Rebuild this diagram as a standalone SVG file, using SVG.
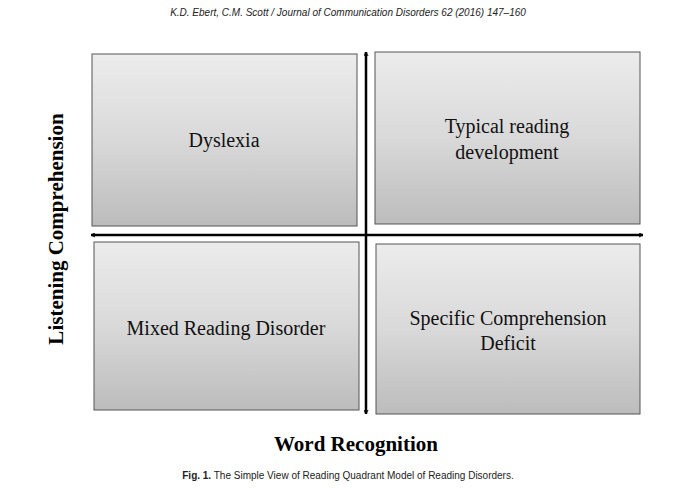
<svg xmlns="http://www.w3.org/2000/svg" width="696" height="493" viewBox="0 0 696 493">
<style>
.box{fill:url(#g);stroke:#555;stroke-width:1}
.t{font-family:"Liberation Serif",serif;font-size:20px;fill:#111;text-anchor:middle}
.ax{stroke:#000;stroke-width:2.5;fill:none}
</style>
<defs>
<linearGradient id="g" x1="0" y1="0" x2="0" y2="1"><stop offset="0" stop-color="#ececec"/><stop offset="0.5" stop-color="#d9d9d9"/><stop offset="1" stop-color="#bcbcbc"/></linearGradient>
<marker id="a" viewBox="0 0 10 10" refX="9" refY="5" markerWidth="5" markerHeight="5" orient="auto-start-reverse" markerUnits="userSpaceOnUse"><path d="M1,1 L9,5 L1,9" fill="none" stroke="#000" stroke-width="2"/></marker>
</defs>
<rect width="696" height="493" fill="#fff"/>
<text x="348" y="16" font-family="Liberation Sans,sans-serif" font-size="10" font-style="italic" text-anchor="middle" fill="#222">K.D. Ebert, C.M. Scott / Journal of Communication Disorders 62 (2016) 147–160</text>
<g id="dyslexia"><rect class="box" x="92" y="54" width="265" height="172"/><text class="t" x="224" y="147">Dyslexia</text></g>
<g id="typical"><rect class="box" x="375" y="52" width="265" height="172"/><text class="t" x="507" y="133">Typical reading</text><text class="t" x="507" y="159">development</text></g>
<g id="mixed"><rect class="box" x="94" y="242" width="265" height="168"/><text class="t" x="226" y="335">Mixed Reading Disorder</text></g>
<g id="specific"><rect class="box" x="376" y="244" width="264" height="170"/><text class="t" x="508" y="325">Specific Comprehension</text><text class="t" x="508" y="350">Deficit</text></g>
<g id="connectors">
<line class="ax" x1="366" y1="414" x2="366" y2="52" marker-start="url(#a)" marker-end="url(#a)"/>
<line class="ax" x1="91" y1="235" x2="643" y2="235" marker-start="url(#a)" marker-end="url(#a)"/>
</g>
<text x="356" y="451" font-family="Liberation Serif,serif" font-size="21" font-weight="bold" text-anchor="middle">Word Recognition</text>
<text transform="translate(63,229) rotate(-90)" font-family="Liberation Serif,serif" font-size="21" font-weight="bold" text-anchor="middle">Listening Comprehension</text>
<text x="348" y="479" font-family="Liberation Sans,sans-serif" font-size="10" text-anchor="middle" fill="#222"><tspan font-weight="bold">Fig. 1.</tspan> The Simple View of Reading Quadrant Model of Reading Disorders.</text>
</svg>
